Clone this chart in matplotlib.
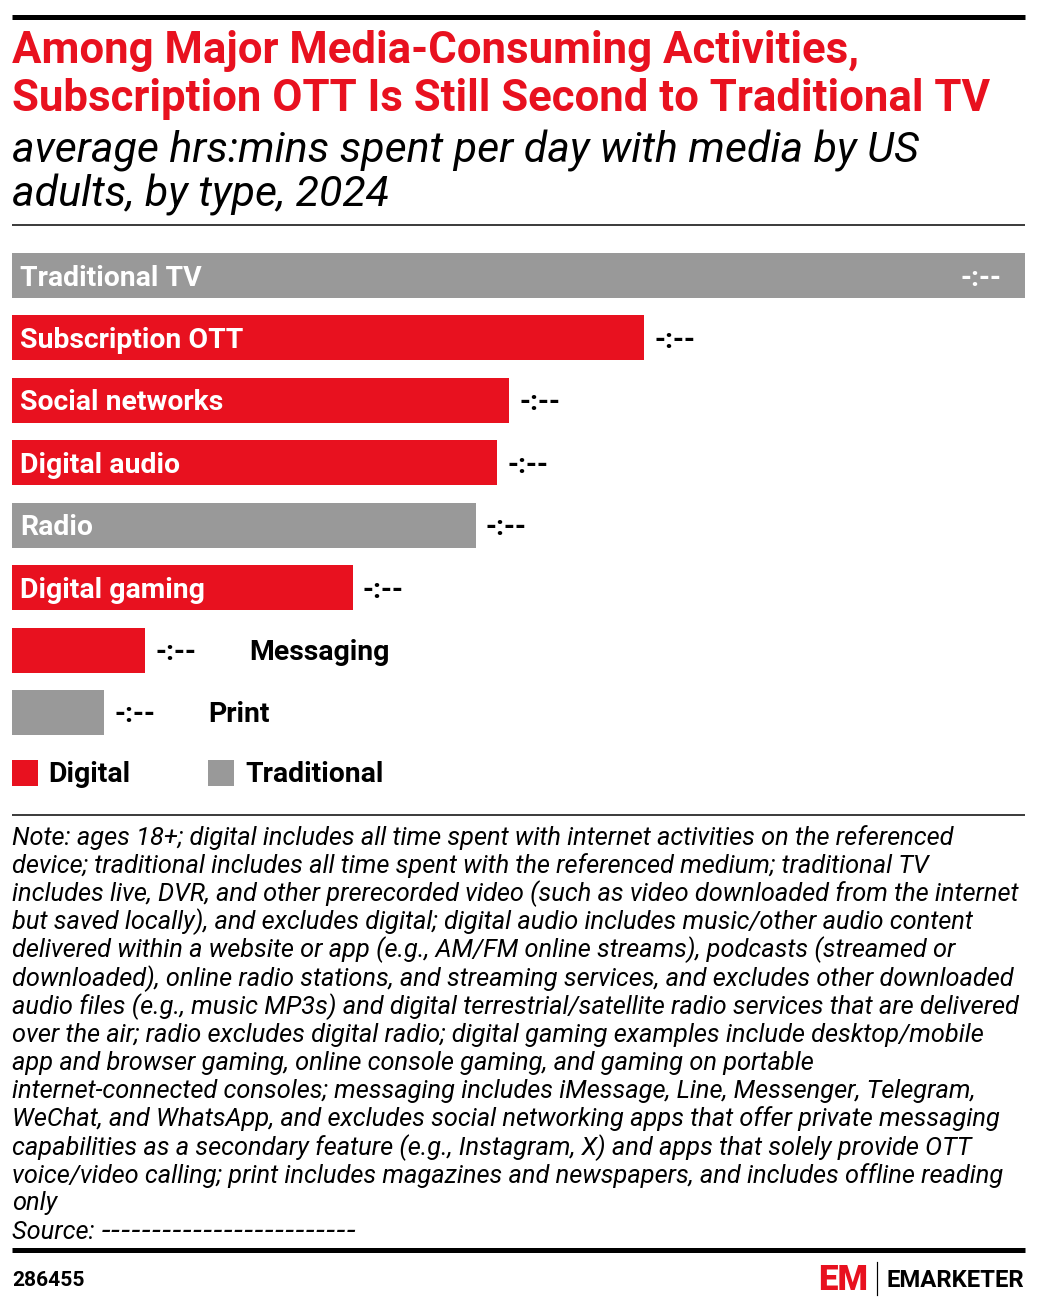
import matplotlib
matplotlib.use('Agg')
import matplotlib.pyplot as plt
from matplotlib.patches import Rectangle
from matplotlib.lines import Line2D

W, H = 1038, 1308

# ---- data ----
categories = ["Traditional TV", "Subscription OTT", "Social networks", "Digital audio",
              "Radio", "Digital gaming", "Messaging", "Print"]
minutes = [165, 103, 81, 79, 75.5, 55.5, 21.7, 15.0]
types = ["Traditional", "Digital", "Digital", "Digital",
         "Traditional", "Digital", "Digital", "Traditional"]
value_labels = ["-:--"] * 8
legend_labels = ["Digital", "Traditional"]

title_lines = ["Among Major Media-Consuming Activities,",
               "Subscription OTT Is Still Second to Traditional TV"]
subtitle_lines = ["average hrs:mins spent per day with media by US",
                  "adults, by type, 2024"]
note_lines = [
    "Note: ages 18+; digital includes all time spent with internet activities on the referenced",
    "device; traditional includes all time spent with the referenced medium; traditional TV",
    "includes live, DVR, and other prerecorded video (such as video downloaded from the internet",
    "but saved locally), and excludes digital; digital audio includes music/other audio content",
    "delivered within a website or app (e.g., AM/FM online streams), podcasts (streamed or",
    "downloaded), online radio stations, and streaming services, and excludes other downloaded",
    "audio files (e.g., music MP3s) and digital terrestrial/satellite radio services that are delivered",
    "over the air; radio excludes digital radio; digital gaming examples include desktop/mobile",
    "app and browser gaming, online console gaming, and gaming on portable",
    "internet-connected consoles; messaging includes iMessage, Line, Messenger, Telegram,",
    "WeChat, and WhatsApp, and excludes social networking apps that offer private messaging",
    "capabilities as a secondary feature (e.g., Instagram, X) and apps that solely provide OTT",
    "voice/video calling; print includes magazines and newspapers, and includes offline reading",
    "only",
]
source_label = "Source: "
source_text = "-------------------------"
chart_id = "286455"

RED = "#E8111F"
GRAY = "#999999"
colors = {"Digital": RED, "Traditional": GRAY}
FONT = "Roboto"
DY = 2.5  # vertical nudge of text (px)

fig = plt.figure(figsize=(W / 100, H / 100), dpi=100)
renderer = fig.canvas.get_renderer()


def fx(x):
    return x / W


def fy(y):
    return 1 - y / H


def hline(y, lw_px, x0=12, x1=1025):
    fig.add_artist(Line2D([fx(x0), fx(x1)], [fy(y), fy(y)], color='black',
                          lw=lw_px * 0.72, solid_capstyle='butt'))


def fit(t, width_px):
    bb = t.get_window_extent(renderer)
    t.set_fontsize(t.get_fontsize() * width_px / bb.width)
    return t.get_fontsize()


def ftext(x, y, s, **kw):
    kw.setdefault('family', FONT)
    kw.setdefault('va', 'center')
    return fig.text(fx(x), fy(y + DY), s, **kw)


# ---- header ----
hline(17, 5)
t1 = ftext(12, 49, title_lines[0], color=RED, weight='bold', fontsize=28)
t2 = ftext(12, 96, title_lines[1], color=RED, weight='bold', fontsize=28)
size = fit(t2, 976)
t1.set_fontsize(size)

s1 = ftext(12, 148, subtitle_lines[0], style='italic', fontsize=26, color='black')
s2 = ftext(12, 193, subtitle_lines[1], style='italic', fontsize=26, color='black')
ss = fit(s1, 908)
s2.set_fontsize(ss)
hline(225, 1.5)

# ---- bars ----
top_c, bot_c = 275.5, 712.5
n = len(categories)
step = (bot_c - top_c) / (n - 1)
ax_top = top_c - step / 2
ax_bot = bot_c + step / 2
ax = fig.add_axes([fx(12), fy(ax_bot), (1025 - 12) / W, (ax_bot - ax_top) / H])
ax.barh(range(n), minutes, height=45 / step,
        color=[colors[t] for t in types], edgecolor='none')
ax.set_xlim(0, max(minutes))
ax.set_ylim(n - 0.5, -0.5)
ax.axis('off')

px_per_unit = (1025 - 12) / max(minutes)

# label font size
probe = fig.text(0, 0, categories[0], family=FONT, weight='bold', fontsize=18)
lab_size = fit(probe, 182)
probe.remove()

off_y = -DY * 0.72
for i, (cat, v, vl) in enumerate(zip(categories, minutes, value_labels)):
    bar_px = v * px_per_unit
    lab = ax.annotate(cat, (0, i), xytext=(8 * 0.72, off_y), textcoords='offset points',
                      va='center', ha='left', family=FONT, weight='bold',
                      fontsize=lab_size, color='white')
    lw_px = lab.get_window_extent(renderer).width
    if i == 0:
        ax.annotate(vl, (v, i), xytext=(-23 * 0.72, off_y), textcoords='offset points',
                    va='center', ha='right', family=FONT, weight='bold',
                    fontsize=lab_size, color='white')
    else:
        ax.annotate(vl, (v, i), xytext=(10 * 0.72, off_y), textcoords='offset points',
                    va='center', ha='left', family=FONT, weight='bold',
                    fontsize=lab_size, color='black')
        if lw_px + 40 > bar_px:
            lab.set_color('black')
            lab.xy = (v, i)
            lab.set_position((104 * 0.72, off_y))

# ---- legend ----
leg_y = 772.5
for (lx, tx), name in zip([(12, 48), (208, 245)], legend_labels):
    fig.add_artist(Rectangle((fx(lx), fy(leg_y + 13)), 26 / W, 26 / H,
                             facecolor=colors[name], edgecolor='none',
                             transform=fig.transFigure))
    ftext(tx, leg_y, name, weight='bold', fontsize=lab_size, color='black')

hline(815, 1.5)

# ---- note ----
probe = fig.text(0, 0, note_lines[6], family=FONT, style='italic', fontsize=13)
note_size = fit(probe, 1004)
probe.remove()
for k, line in enumerate(note_lines):
    ftext(12, 835 + k * 28.15, line, style='italic', fontsize=note_size, color='black')
src_y = 835 + len(note_lines) * 28.15
sl = ftext(12, src_y, source_label, style='italic', fontsize=note_size, color='black',
           va='baseline')
sl.set_y(fy(src_y + DY + 7))
sl_w = sl.get_window_extent(renderer).width
sd = fig.text(fx(12 + sl_w), fy(src_y + DY + 7), source_text, family='DejaVu Sans',
              style='oblique', fontsize=note_size, color='black', va='baseline')
fit(sd, 355 - 12 - sl_w)

hline(1250, 5)

# ---- footer ----
idt = ftext(12, 1278, chart_id, weight='bold', fontsize=12, color='black')
fit(idt, 72)
em = ftext(818, 1278, "EM", weight='black', fontsize=22, color=RED)
fit(em, 50)
fig.add_artist(Line2D([fx(877), fx(877)], [fy(1262), fy(1295)], color='black',
                      lw=1.2 * 0.72))
brand = ftext(887, 1278, "EMARKETER", weight='bold', fontsize=14, color='black')
fit(brand, 138)

fig.savefig("out.png", dpi=100)
